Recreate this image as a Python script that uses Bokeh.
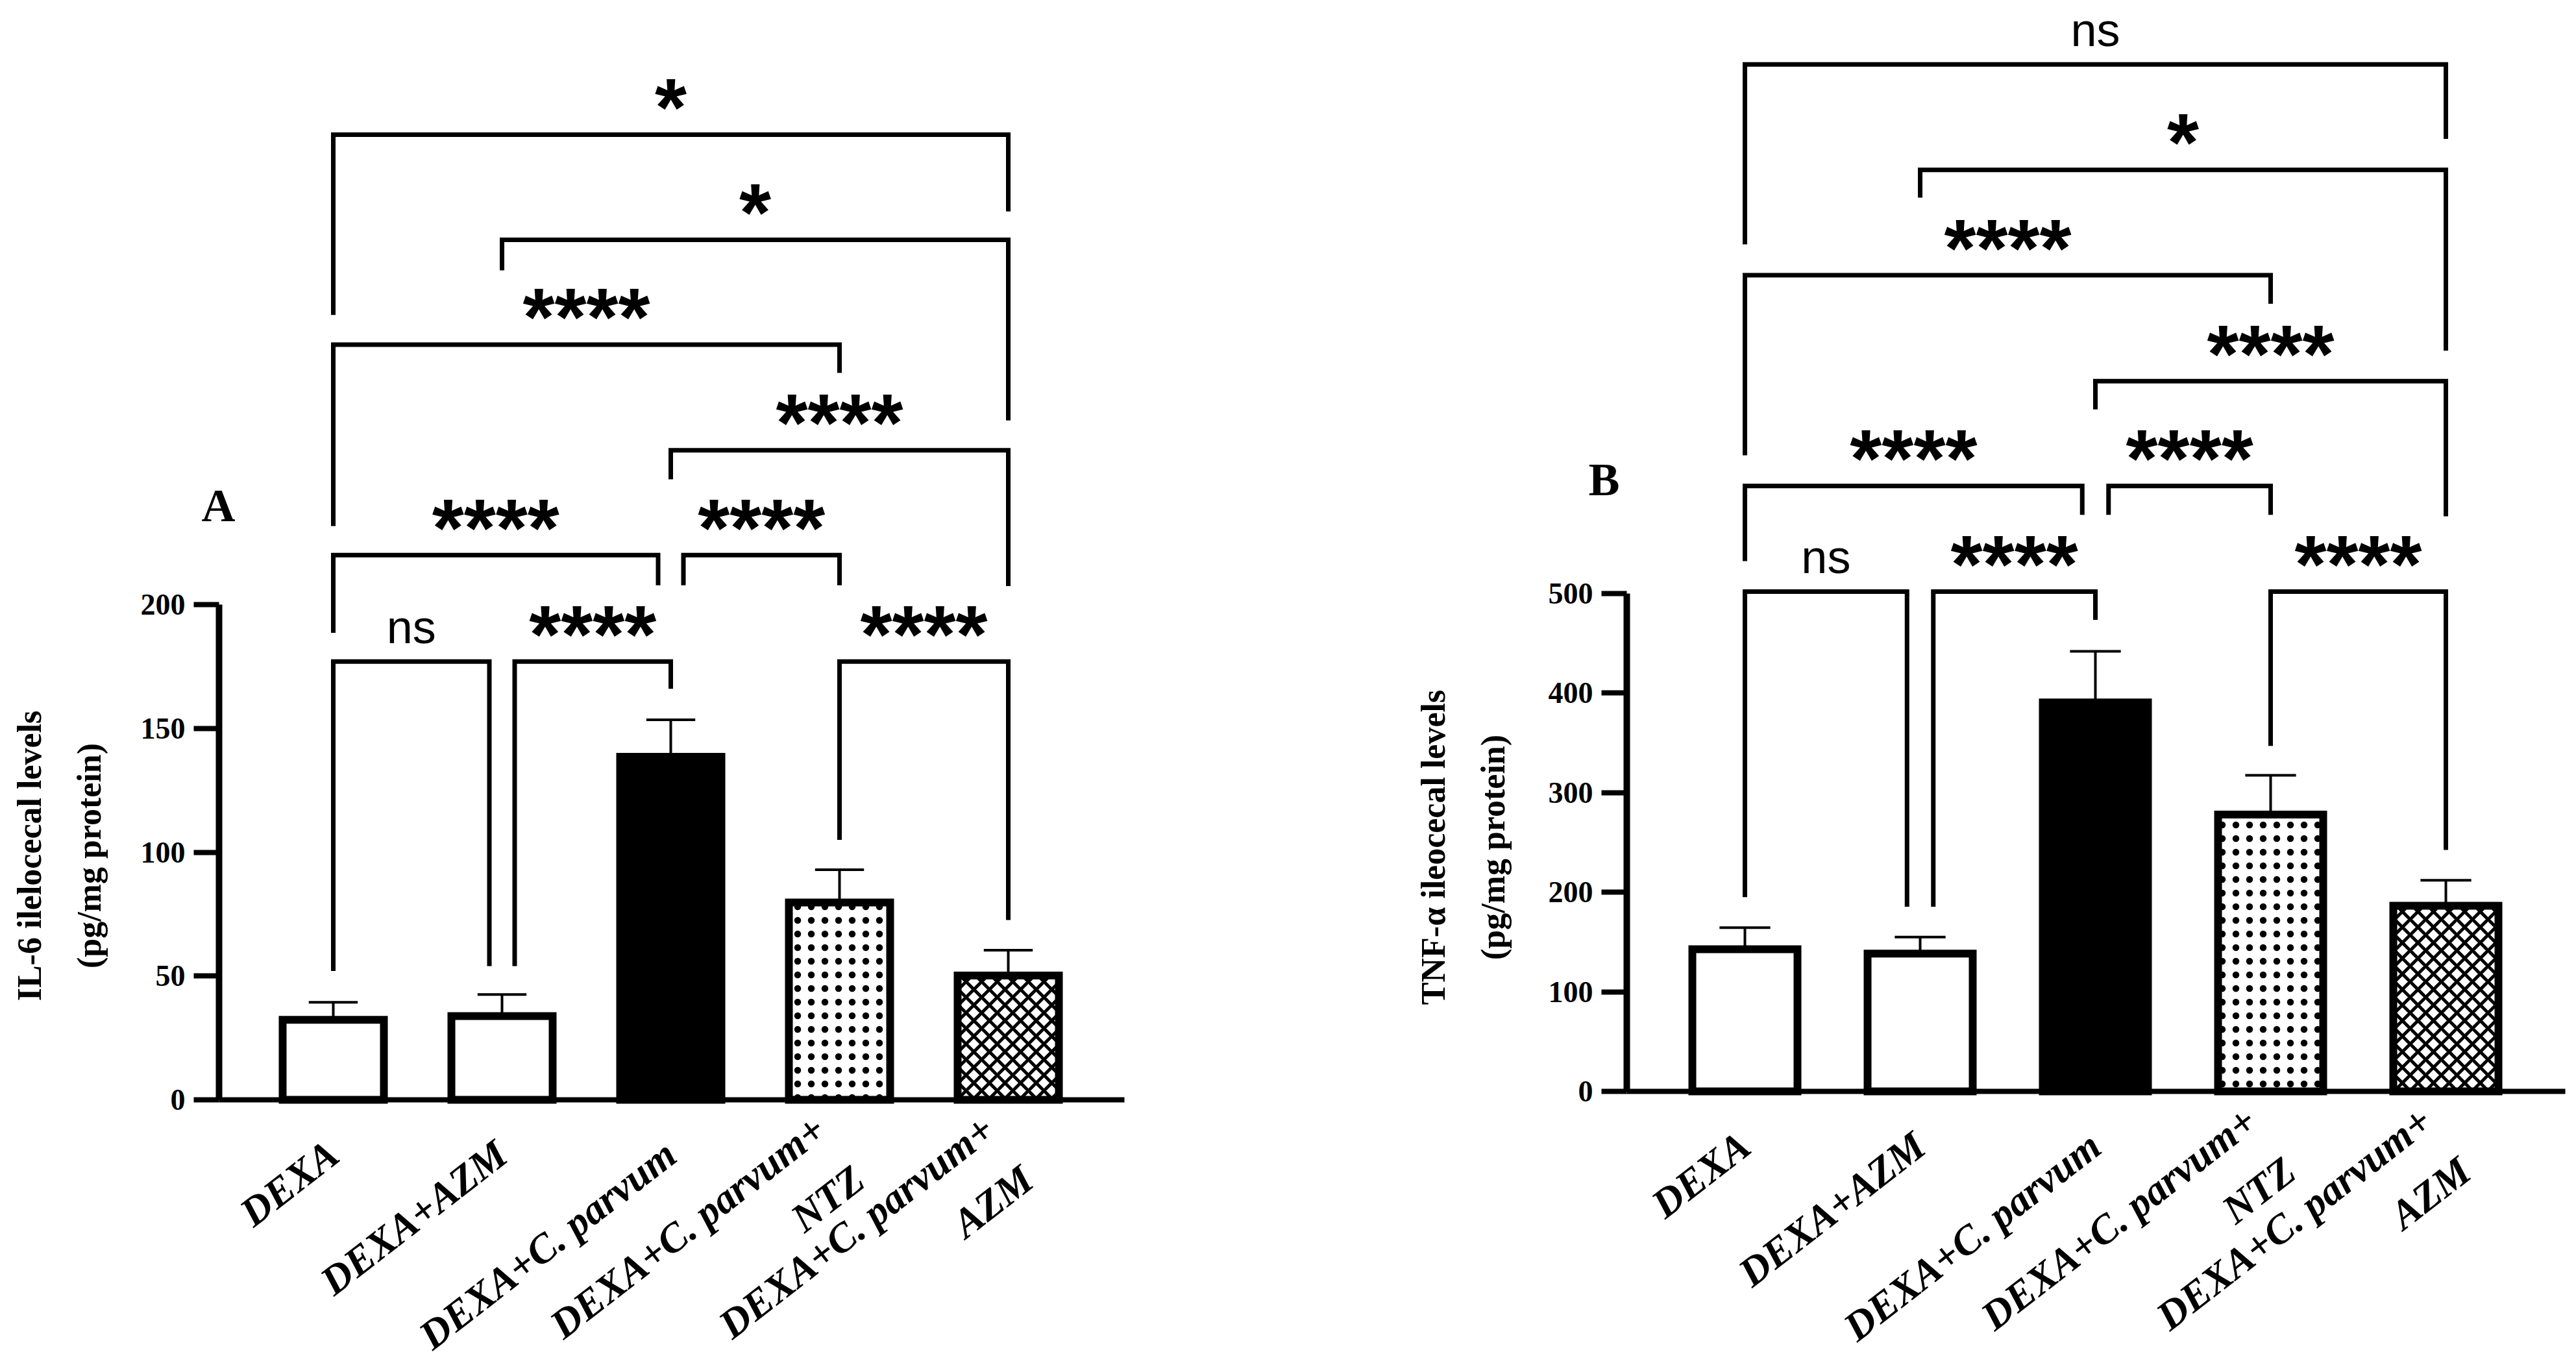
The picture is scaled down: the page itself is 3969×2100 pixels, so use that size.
import math
from bokeh.plotting import figure
from bokeh.layouts import row
from bokeh.models import Range1d, FixedTicker, ColumnDataSource
from bokeh.core.properties import value
from bokeh.embed import file_html
from bokeh.resources import INLINE

# ---------------- data ----------------
groups = ["DEXA", "DEXA+AZM", "DEXA+C. parvum", "DEXA+C. parvum+\nNTZ", "DEXA+C. parvum+\nAZM"]

il6_mean = [32.3, 33.8, 138.5, 79.7, 50.2]
il6_err = [7.1, 8.7, 15.0, 13.2, 10.2]
tnf_mean = [142.8, 138.3, 390.6, 278.0, 186.4]
tnf_err = [21.7, 16.7, 51.4, 39.5, 25.6]

il6_ticks = [0, 50, 100, 150, 200]
tnf_ticks = [0, 100, 200, 300, 400, 500]

il6_title = ["IL-6 ilelocecal levels", "(pg/mg protein)"]
tnf_title = ["TNF-\u03b1 ileocecal levels", "(pg/mg protein)"]

# significance brackets: group from, group to, bracket level, left/right leg ends, label
il6_br_from = [0, 1, 3, 0, 2, 2, 0, 1, 0]
il6_br_to = [1, 2, 4, 2, 3, 4, 3, 4, 4]
il6_br_y = [177, 177, 177, 220, 220, 262.3, 305, 347.3, 389.8]
il6_br_lo_l = [52, 54, 105, 188.6, 207.8, 250.6, 231.7, 335, 317]
il6_br_lo_r = [54, 166, 72.6, 207.8, 207.8, 207.5, 293.6, 274.4, 358.8]
il6_br_lab = ["ns", "****", "****", "****", "****", "****", "****", "*", "*"]

tnf_br_from = [0, 1, 3, 0, 2, 2, 0, 1, 0]
tnf_br_to = [1, 2, 4, 2, 3, 4, 3, 4, 4]
tnf_br_y = [502, 502, 502, 608, 608, 713.4, 819.7, 925.6, 1031.5]
tnf_br_lo_l = [195, 185.5, 347, 532.6, 579, 685, 638.8, 897.6, 850.7]
tnf_br_lo_r = [185.5, 473.6, 242.5, 579, 579, 577.6, 791, 744, 956.6]
tnf_br_lab = ["ns", "****", "****", "****", "****", "****", "****", "*", "ns"]

# ---------------- styles ----------------
bar_fill = ["white", "white", "black", "white", "white"]
bar_hatch = [" ", " ", " ", "dot", "diagonal_cross"]
bar_hatch_scale = [10, 10, 10, 21, 24]
bar_hatch_weight = [1, 1, 1, 2.6, 5]
SERIF = "Liberation Serif"
SANS = "Liberation Sans"
GAP = 0.075


def make_panel(mean, err, ticks, title, br_from, br_to, br_y, lo_l, lo_r, labs, geo):
    # geo: canvas width/height, px per unit, pixel of group 0 and of zero, axis/label places
    W, H = geo["W"], geo["H"]
    ppx, ppy = geo["ppx"], geo["ppy"]
    x0px, y0px = geo["x0px"], geo["y0px"]
    x_range = Range1d(-x0px / ppx, (W - x0px) / ppx)
    y_range = Range1d(-(H - y0px) / ppy, y0px / ppy)
    p = figure(width=W, height=H, x_range=x_range, y_range=y_range,
               output_backend="svg", toolbar_location=None,
               min_border_left=0, min_border_right=0, min_border_top=0, min_border_bottom=0)
    p.outline_line_color = None
    p.xgrid.visible = False
    p.ygrid.visible = False
    p.background_fill_color = "white"
    p.border_fill_color = "white"

    idx = list(range(len(groups)))
    tops = [m + e for m, e in zip(mean, err)]

    # error bars (upper only)
    p.segment(x0=idx, y0=mean, x1=idx, y1=tops, line_color="black", line_width=4)
    p.segment(x0=[i - 0.145 for i in idx], y0=tops, x1=[i + 0.145 for i in idx], y1=tops,
              line_color="black", line_width=4)

    src = ColumnDataSource(dict(x=idx, top=mean, fill=bar_fill, hatch=bar_hatch,
                                hs=bar_hatch_scale, hw=bar_hatch_weight))
    p.vbar(x="x", top="top", bottom=0, width=0.6, source=src, fill_color="fill",
           line_color="black", line_width=12, line_join="miter",
           hatch_pattern="hatch", hatch_color="black", hatch_scale="hs", hatch_weight="hw")

    # brackets
    xs, ys, tx, ty = [], [], [], []
    for k in range(len(br_from)):
        a, b, y = br_from[k], br_to[k], br_y[k]
        xa, xb = float(a), float(b)
        for m in range(len(br_from)):
            if m != k and br_y[m] == y:
                if br_to[m] == a:
                    xa += GAP
                if br_from[m] == b:
                    xb -= GAP
        xs.append([xa, xa, xb, xb])
        ys.append([lo_l[k], y, y, lo_r[k]])
        tx.append((xa + xb) / 2)
        ty.append(y)
    p.multi_line(xs=xs, ys=ys, line_color="black", line_width=7, line_join="miter")

    is_ns = [t == "ns" for t in labs]
    p.text(x=[tx[k] for k in range(len(labs)) if is_ns[k]],
           y=[ty[k] for k in range(len(labs)) if is_ns[k]],
           text=[labs[k] for k in range(len(labs)) if is_ns[k]],
           text_font=value(SANS), text_font_size="72px",
           text_align="center", text_baseline="alphabetic", y_offset=-53, text_color="black")
    p.text(x=[tx[k] for k in range(len(labs)) if not is_ns[k]],
           y=[ty[k] for k in range(len(labs)) if not is_ns[k]],
           text=[labs[k] for k in range(len(labs)) if not is_ns[k]],
           text_font=value(SANS), text_font_size="126px",
           text_font_style="bold", text_align="center", text_baseline="alphabetic",
           y_offset=-42, text_color="black")

    # axes (fixed in place inside the canvas)
    ax_x = (geo["yaxis_px"] - x0px) / ppx
    ax_end = (geo["xaxis_end_px"] - x0px) / ppx

    xa_ = p.xaxis[0]
    xa_.fixed_location = 0
    xa_.bounds = (ax_x, ax_end)
    xa_.ticker = FixedTicker(ticks=idx)
    xa_.major_label_overrides = {i: g for i, g in zip(idx, groups)}
    xa_.major_label_orientation = 0.66
    xa_.major_tick_line_color = None
    xa_.minor_tick_line_color = None
    xa_.axis_line_width = 8
    xa_.axis_line_color = "black"
    xa_.major_label_standoff = 70
    xa_.major_label_text_font = SERIF
    xa_.major_label_text_font_style = "bold italic"
    xa_.major_label_text_font_size = "63px"
    xa_.major_label_text_color = "black"
    xa_.major_label_text_line_height = 1.4

    ya = p.yaxis[0]
    ya.fixed_location = ax_x
    ya.bounds = (0, ticks[-1])
    ya.ticker = FixedTicker(ticks=ticks)
    ya.minor_tick_line_color = None
    ya.major_tick_out = 39
    ya.major_tick_in = 0
    ya.major_tick_line_width = 8
    ya.major_tick_line_color = "black"
    ya.axis_line_width = 10
    ya.axis_line_color = "black"
    ya.major_label_standoff = 13
    ya.major_label_text_font = SERIF
    ya.major_label_text_font_style = "bold"
    ya.major_label_text_font_size = "46px"
    ya.major_label_text_color = "black"

    # y-axis title (two rotated lines)
    t_x = [(px - x0px) / ppx for px in geo["title_px"]]
    t_y = (y0px - geo["title_cy_px"]) / ppy
    p.text(x=t_x, y=[t_y, t_y], text=title, angle=math.pi / 2,
           text_font=value(SERIF), text_font_style="bold", text_font_size="52px",
           text_align="center", text_baseline="middle", text_color="black")

    # panel letter
    p.text(x=[(geo["letter_px"][0] - x0px) / ppx], y=[(y0px - geo["letter_px"][1]) / ppy],
           text=[geo["letter"]], text_font=value(SERIF), text_font_style="bold",
           text_font_size="72px", text_align="center", text_baseline="alphabetic",
           y_offset=-22, text_color="black")
    return p


geoA = dict(W=1985, H=2100, ppx=260.0, ppy=3.815, x0px=513, y0px=1694,
            yaxis_px=337, xaxis_end_px=1732, title_px=[45, 137], title_cy_px=1318,
            letter="A", letter_px=(336, 800))
geoB = dict(W=1984, H=2100, ppx=270.0, ppy=1.534, x0px=703, y0px=1681,
            yaxis_px=521, xaxis_end_px=1967, title_px=[223, 315], title_cy_px=1305,
            letter="B", letter_px=(486, 760))

pA = make_panel(il6_mean, il6_err, il6_ticks, il6_title,
                il6_br_from, il6_br_to, il6_br_y, il6_br_lo_l, il6_br_lo_r, il6_br_lab, geoA)
pB = make_panel(tnf_mean, tnf_err, tnf_ticks, tnf_title,
                tnf_br_from, tnf_br_to, tnf_br_y, tnf_br_lo_l, tnf_br_lo_r, tnf_br_lab, geoB)

layout = row(pA, pB, spacing=0)
open("out.html", "w").write(file_html(layout, INLINE))
